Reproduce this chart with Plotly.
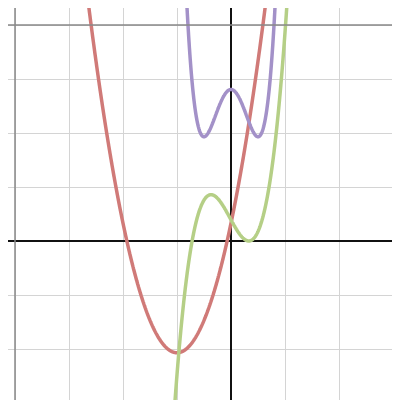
import numpy as np
import plotly.graph_objects as go

# polynomial coefficients (highest power first)
red_coeffs = [2.4, 4.8, 0.33]                      # 2.4(x+1)^2 - 2.07
green_coeffs = np.polymul([5.0], np.polymul([1, -0.66, 0.1089], [1, 0.72])).tolist()
purple_coeffs = [14, 0, -7, 0, 0.875 + 1.93]       # 14(x^2-0.25)^2 + 1.93
colors = ["#d07a78", "#b5cf86", "#a391c8"]

# the page adds an 8px body margin, so ranges are shifted to compensate
x_range = [-223 / 54, 177 / 54]
y_range = [-167 / 54, 233 / 54]

xs = np.linspace(x_range[0], x_range[1], 3000)
fig = go.Figure()
for coeffs, color in zip([red_coeffs, green_coeffs, purple_coeffs], colors):
    ys = np.polyval(coeffs, xs)
    keep = (ys < 6) & (ys > -5)
    fig.add_trace(go.Scatter(x=xs[keep], y=ys[keep], mode="lines",
                             line=dict(color=color, width=3.5, simplify=False),
                             showlegend=False))

# darker reference lines
fig.add_vline(x=-4, line=dict(color="#888", width=1.5))
fig.add_hline(y=4, line=dict(color="#888", width=1.5))

fig.update_layout(
    width=400, height=400, margin=dict(l=0, r=0, t=0, b=0),
    plot_bgcolor="white", paper_bgcolor="white",
    xaxis=dict(range=x_range, dtick=1, showgrid=True, gridcolor="#d4d4d4",
               zeroline=True, zerolinecolor="#111", zerolinewidth=1.5,
               showticklabels=False, ticks=""),
    yaxis=dict(range=y_range, dtick=1, showgrid=True, gridcolor="#d4d4d4",
               zeroline=True, zerolinecolor="#111", zerolinewidth=1.5,
               showticklabels=False, ticks=""),
)
fig.write_html("out.html")
